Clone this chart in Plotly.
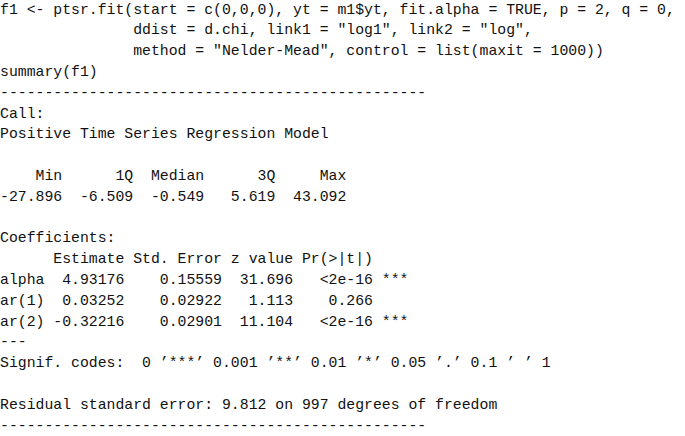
import plotly.graph_objects as go

# --- the R session shown in the picture ---
call_lines = [
    'f1 <- ptsr.fit(start = c(0,0,0), yt = m1$yt, fit.alpha = TRUE, p = 2, q = 0,',
    '               ddist = d.chi, link1 = "log1", link2 = "log",',
    '               method = "Nelder-Mead", control = list(maxit = 1000))',
    'summary(f1)',
]
model_name = 'Positive Time Series Regression Model'

quantile_names = ['Min', '1Q', 'Median', '3Q', 'Max']
quantile_values = ['-27.896', '-6.509', '-0.549', '5.619', '43.092']

coef_names = ['alpha', 'ar(1)', 'ar(2)']
estimates = ['4.93176', '0.03252', '-0.32216']
std_errors = ['0.15559', '0.02922', '0.02901']
z_values = ['31.696', '1.113', '11.104']
p_values = ['<2e-16', '0.266', '<2e-16']
stars = ['***', '', '***']

signif_codes = "Signif. codes:  0 ’***’ 0.001 ’**’ 0.01 ’*’ 0.05 ’.’ 0.1 ’ ’ 1"
resid_se = '9.812'
resid_df = '997'
n_dash = 48

#%% build the printed lines, R style
dash = '-' * n_dash
lines = call_lines + [dash, 'Call:', model_name, '']
lines.append(' '.join(n.rjust(7) for n in quantile_names))
lines.append(' '.join(v.rjust(7) for v in quantile_values))
lines += ['', 'Coefficients:']
hdr = ['Estimate', 'Std. Error', 'z value', 'Pr(>|t|)']
lines.append(' ' * 5 + ' ' + ' '.join(hdr))
for i in range(len(coef_names)):
    row = coef_names[i].ljust(5)
    cols = [estimates[i], std_errors[i], z_values[i], p_values[i]]
    row += ' ' + ' '.join(c.rjust(len(h)) for c, h in zip(cols, hdr))
    if stars[i]:
        row += ' ' + stars[i]
    lines.append(row)
lines += ['---', signif_codes, '',
          'Residual standard error: {} on {} degrees of freedom'.format(resid_se, resid_df),
          dash]

# keep runs of spaces
txt = [l.replace(' ', '\u00a0') for l in lines]

fig = go.Figure(go.Scatter(
    x=[0] * len(txt), y=list(range(len(txt))), text=txt,
    mode='text', textposition='middle right', hoverinfo='skip', cliponaxis=False,
    textfont=dict(family='Liberation Mono', size=14.8, color='#111'),
))
fig.update_layout(
    width=685, height=436, margin=dict(l=0, r=0, t=0, b=0),
    plot_bgcolor='white', paper_bgcolor='white', showlegend=False,
    xaxis=dict(visible=False, range=[0, 1], fixedrange=True),
    yaxis=dict(visible=False, range=[20.48, -0.48], fixedrange=True),
)
# page has a default 8px body margin, drop it
fig.write_html('out.html', config={'displayModeBar': False},
               post_script="document.body.style.margin='0';")
